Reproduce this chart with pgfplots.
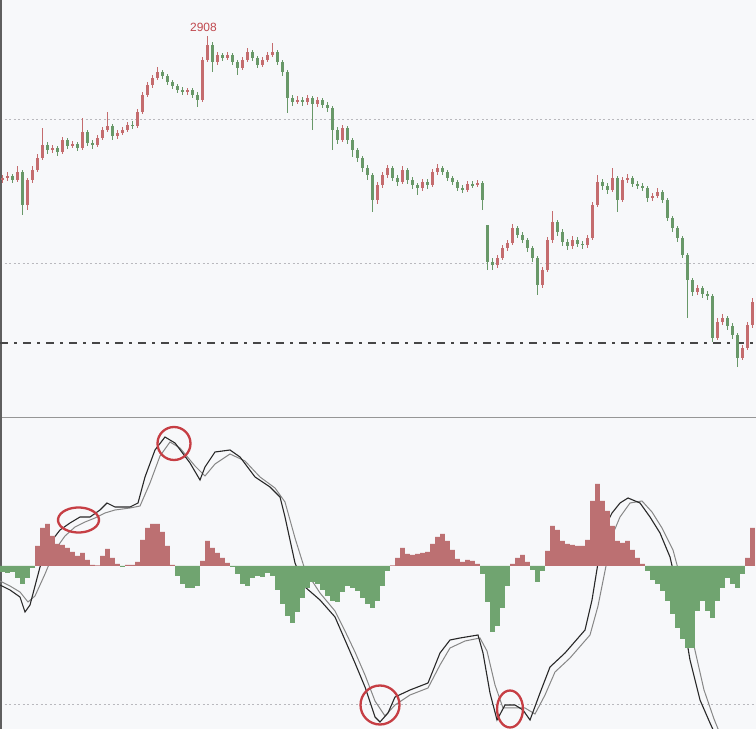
\documentclass[border=0pt]{standalone}
\usepackage{pgfplots}
\usepackage{pgfplotstable}
\usepackage{fontspec}
\setmainfont{Liberation Sans}
\pgfplotsset{compat=1.18}

\definecolor{bg}{RGB}{247,248,250}
\definecolor{upcol}{RGB}{196,108,110}
\definecolor{dncol}{RGB}{104,152,104}
\definecolor{histup}{RGB}{188,112,114}
\definecolor{histdn}{RGB}{112,164,112}
\definecolor{difcol}{RGB}{40,40,40}
\definecolor{deacol}{RGB}{135,135,135}
\definecolor{circcol}{RGB}{198,62,68}
\definecolor{gridcol}{RGB}{185,185,190}
\definecolor{framecol}{RGB}{95,95,95}
\definecolor{sepcol}{RGB}{150,150,150}
\definecolor{labelcol}{RGB}{192,72,78}
\definecolor{supportcol}{RGB}{70,70,70}

% price bars: x o h l c
\pgfplotstableread{
x o h l c
2.5 2764 2769 2761 2766
7.5 2766 2772 2763 2768
12.5 2768 2770 2761 2764
17.5 2764 2778 2762 2772
22.5 2772 2774 2729 2739
27.5 2739 2766 2734 2764
32.5 2764 2778 2761 2774
37.5 2774 2790 2772 2786
42.5 2786 2816 2784 2799
47.5 2799 2802 2790 2794
52.5 2794 2799 2791 2796
57.5 2796 2798 2788 2792
62.5 2792 2807 2790 2804
67.5 2804 2806 2795 2798
72.5 2798 2803 2796 2800
77.5 2800 2802 2793 2796
82.5 2796 2826 2794 2812
87.5 2812 2814 2798 2801
92.5 2801 2804 2795 2799
97.5 2799 2809 2797 2806
102.5 2806 2817 2804 2814
107.5 2814 2832 2812 2818
112.5 2818 2820 2804 2808
117.5 2808 2814 2805 2811
122.5 2811 2817 2809 2814
127.5 2814 2822 2812 2819
132.5 2819 2823 2815 2818
137.5 2818 2835 2816 2832
142.5 2832 2852 2830 2849
147.5 2849 2862 2847 2859
152.5 2859 2869 2856 2866
157.5 2866 2877 2864 2872
162.5 2872 2874 2865 2868
167.5 2868 2870 2859 2862
172.5 2862 2864 2855 2858
177.5 2858 2860 2851 2854
182.5 2854 2857 2849 2852
187.5 2852 2856 2849 2854
192.5 2854 2856 2846 2849
197.5 2849 2852 2837 2844
202.5 2844 2887 2842 2884
207.5 2884 2908 2882 2899
212.5 2899 2902 2872 2882
217.5 2882 2892 2879 2889
222.5 2889 2891 2883 2886
227.5 2886 2892 2884 2889
232.5 2889 2891 2879 2882
237.5 2882 2884 2869 2876
242.5 2876 2887 2874 2884
247.5 2884 2896 2882 2892
252.5 2892 2894 2883 2886
257.5 2886 2888 2876 2879
262.5 2879 2887 2877 2884
267.5 2884 2892 2882 2889
272.5 2889 2901 2887 2892
277.5 2892 2894 2879 2882
282.5 2882 2884 2868 2872
287.5 2872 2874 2831 2846
292.5 2846 2849 2838 2842
297.5 2842 2848 2840 2844
302.5 2844 2847 2838 2842
307.5 2842 2849 2839 2846
312.5 2846 2848 2814 2840
317.5 2840 2847 2837 2844
322.5 2844 2846 2836 2839
327.5 2839 2842 2832 2836
332.5 2836 2838 2794 2814
337.5 2814 2817 2800 2804
342.5 2804 2819 2802 2816
347.5 2816 2818 2800 2804
352.5 2804 2806 2787 2794
357.5 2794 2796 2782 2786
362.5 2786 2788 2772 2776
367.5 2776 2779 2764 2769
372.5 2769 2771 2732 2744
377.5 2744 2762 2740 2759
382.5 2759 2772 2756 2769
387.5 2769 2779 2766 2776
392.5 2776 2778 2763 2766
397.5 2766 2769 2758 2762
402.5 2762 2778 2760 2774
407.5 2774 2776 2760 2764
412.5 2764 2767 2755 2759
417.5 2759 2761 2749 2756
422.5 2756 2765 2753 2762
427.5 2762 2765 2755 2759
432.5 2759 2775 2757 2772
437.5 2772 2780 2769 2776
442.5 2776 2778 2769 2772
447.5 2772 2774 2763 2766
452.5 2766 2768 2759 2762
457.5 2762 2764 2753 2756
462.5 2756 2759 2751 2754
467.5 2754 2763 2752 2760
472.5 2760 2763 2756 2759
477.5 2759 2764 2757 2761
482.5 2761 2763 2734 2744
487.5 2719 2719 2674 2682
492.5 2682 2686 2674 2679
497.5 2679 2689 2676 2686
502.5 2686 2699 2684 2696
507.5 2696 2704 2693 2701
512.5 2701 2720 2699 2716
517.5 2716 2718 2706 2709
522.5 2709 2712 2701 2704
527.5 2704 2706 2692 2696
532.5 2696 2698 2682 2686
537.5 2686 2688 2649 2659
542.5 2659 2677 2656 2674
547.5 2674 2707 2672 2704
552.5 2704 2733 2701 2722
557.5 2722 2724 2708 2712
562.5 2712 2715 2698 2702
567.5 2702 2705 2694 2698
572.5 2698 2708 2695 2704
577.5 2704 2707 2697 2700
582.5 2700 2703 2695 2699
587.5 2699 2709 2696 2706
592.5 2706 2742 2704 2739
597.5 2739 2769 2737 2762
602.5 2762 2765 2754 2758
607.5 2758 2761 2750 2754
612.5 2754 2776 2752 2766
617.5 2766 2768 2732 2744
622.5 2744 2767 2742 2764
627.5 2764 2770 2761 2766
632.5 2766 2768 2757 2760
637.5 2760 2763 2755 2758
642.5 2758 2761 2753 2756
647.5 2756 2758 2742 2746
652.5 2746 2751 2743 2748
657.5 2748 2756 2746 2752
662.5 2752 2754 2741 2744
667.5 2744 2746 2723 2726
672.5 2726 2728 2712 2716
677.5 2716 2718 2702 2706
682.5 2706 2708 2686 2689
687.5 2689 2691 2626 2664
692.5 2664 2666 2648 2652
697.5 2652 2659 2649 2656
702.5 2656 2658 2646 2650
707.5 2650 2653 2644 2648
712.5 2648 2650 2602 2606
717.5 2606 2626 2604 2622
722.5 2622 2630 2619 2626
727.5 2626 2628 2614 2618
732.5 2618 2621 2605 2609
737.5 2609 2611 2577 2586
742.5 2586 2599 2584 2596
747.5 2596 2622 2594 2619
752.5 2619 2646 2616 2642
}\candles

% MACD histogram
\pgfplotstableread{
x v
2.5 -0.6
7.5 -0.7
12.5 -0.6
17.5 -1.2
22.5 -1.8
27.5 -1.2
32.5 -0.2
37.5 2.0
42.5 3.8
47.5 4.2
52.5 3.0
57.5 2.2
62.5 2.1
67.5 1.8
72.5 1.4
77.5 1.0
82.5 1.3
87.5 0.6
92.5 0.1
97.5 0.05
102.5 1.0
107.5 1.7
112.5 0.8
117.5 0.2
122.5 -0.1
127.5 0.1
132.5 0.1
137.5 0.4
142.5 2.6
147.5 3.8
152.5 4.2
157.5 4.2
162.5 3.4
167.5 2.0
172.5 0.1
177.5 -1.0
182.5 -1.8
187.5 -2.2
192.5 -2.2
197.5 -2.0
202.5 0.5
207.5 2.5
212.5 1.8
217.5 1.3
222.5 0.8
227.5 0.3
232.5 -0.1
237.5 -0.8
242.5 -1.8
247.5 -2.0
252.5 -1.2
257.5 -1.0
262.5 -1.1
267.5 -0.7
272.5 -1.0
277.5 -2.4
282.5 -3.8
287.5 -5.0
292.5 -5.7
297.5 -4.6
302.5 -3.2
307.5 -2.2
312.5 -1.6
317.5 -1.8
322.5 -2.4
327.5 -3.0
332.5 -3.5
337.5 -3.6
342.5 -2.6
347.5 -2.0
352.5 -2.2
357.5 -2.5
362.5 -3.2
367.5 -3.8
372.5 -4.2
377.5 -3.5
382.5 -2.0
387.5 -0.5
392.5 0.05
397.5 0.8
402.5 1.8
407.5 1.2
412.5 1.1
417.5 1.2
422.5 1.3
427.5 1.4
432.5 2.2
437.5 2.9
442.5 3.2
447.5 2.5
452.5 1.6
457.5 0.7
462.5 0.4
467.5 0.6
472.5 0.5
477.5 0.2
482.5 -0.8
487.5 -3.6
492.5 -6.6
497.5 -6.0
502.5 -4.2
507.5 -2.0
512.5 0.2
517.5 0.8
522.5 1.1
527.5 0.4
532.5 -0.4
537.5 -1.6
542.5 -0.5
547.5 1.5
552.5 4.0
557.5 3.6
562.5 2.5
567.5 2.2
572.5 2.1
577.5 2.0
582.5 2.0
587.5 2.6
592.5 6.5
597.5 8.2
602.5 6.5
607.5 5.5
612.5 4.0
617.5 2.5
622.5 2.3
627.5 2.5
632.5 1.6
637.5 0.8
642.5 0.2
647.5 -0.5
652.5 -1.4
657.5 -1.8
662.5 -2.5
667.5 -3.5
672.5 -4.8
677.5 -6.2
682.5 -7.3
687.5 -8.2
692.5 -8.2
697.5 -4.5
702.5 -3.5
707.5 -4.5
712.5 -5.2
717.5 -3.5
722.5 -2.2
727.5 -1.2
732.5 -1.8
737.5 -2.2
742.5 -0.8
747.5 0.8
752.5 3.8
}\hist

% DIF line
\pgfplotstableread{
x v
0 -1.9
10 -2.4
20 -3.1
25 -4.6
30 -3.9
40 -0.1
50 2.3
60 3.6
70 4.3
80 4.9
90 4.9
100 5.6
107 6.3
115 5.9
130 5.9
138 6.3
145 8.9
155 11.6
165 12.9
175 12.3
190 10.3
200 8.6
205 9.9
215 11.4
230 11.6
240 10.9
255 8.9
270 7.9
280 6.9
285 4.9
295 0.3
305 -2.1
320 -3.4
335 -5.1
345 -7.4
355 -9.7
365 -12.1
375 -15.1
380 -15.6
388 -14.7
395 -13.1
410 -12.4
428 -11.7
440 -8.7
450 -7.4
460 -7.2
478 -6.9
483 -8.7
490 -12.7
497 -15.4
505 -13.9
515 -13.9
523 -14.4
530 -15.4
540 -12.7
550 -10.1
565 -8.7
585 -6.4
592 -3.4
598 0.3
605 3.9
612 5.3
620 6.3
628 6.8
640 6.3
650 4.9
660 3.3
670 0.9
680 -3.4
690 -9.4
700 -13.4
710 -15.7
720 -17.9
}\dif

% DEA line
\pgfplotstableread{
x v
0 -1.5
10 -2.0
20 -2.6
28 -3.6
35 -3.0
45 -0.8
55 1.6
65 3.0
75 3.9
85 4.4
95 4.8
105 5.3
115 5.6
130 5.8
140 6.0
150 8.3
160 11.0
170 12.4
180 11.8
195 10.0
205 9.0
215 10.2
230 11.2
245 10.5
260 8.9
275 7.8
285 6.4
295 2.8
305 -0.4
320 -2.7
335 -4.5
345 -6.5
355 -8.6
365 -10.9
375 -13.5
385 -15.0
395 -13.9
410 -12.9
428 -12.2
440 -9.9
450 -8.2
465 -7.5
480 -7.2
487 -8.5
495 -11.9
503 -14.2
512 -14.2
525 -14.2
535 -14.8
545 -12.9
555 -10.6
570 -9.2
590 -6.9
598 -4.0
605 -0.5
612 3.0
620 4.9
630 6.3
642 6.5
652 5.4
662 3.8
673 1.6
684 -2.5
694 -8.0
704 -12.4
714 -15.3
725 -18.0
}\dea

\pgfplotsset{
  candle/.style={draw=none, mark=none, forget plot,
    error bars/y dir=both, error bars/y explicit, error bars/error mark=none},
}

\begin{document}
\begin{tikzpicture}
% price panel
\begin{axis}[
  at={(0,311bp)}, anchor=south west,
  scale only axis, width=756bp, height=418bp,
  xmin=0, xmax=756, ymin=2526, ymax=2944,
  axis x line*=bottom, axis y line*=left,
  x axis line style={draw=sepcol, line width=1.2bp, -},
  y axis line style={draw=framecol, line width=3.6bp, -},
  xtick=\empty, ytick={2681,2825}, yticklabels={},
  major tick length=0pt,
  ymajorgrids,
  major grid style={gridcol, line width=0.8bp, dash pattern=on 2bp off 2.5bp},
  extra y ticks={2601}, extra y tick labels={},
  extra y tick style={major grid style={supportcol, line width=1.6bp,
    dash pattern=on 8bp off 6bp on 2.5bp off 6.5bp}},
  axis background/.style={fill=bg},
]
% wicks
\addplot[candle, restrict expr to domain={\thisrow{c}-\thisrow{o}}{0:1000},
  error bars/error bar style={draw=upcol, line width=0.9bp}]
  table[x=x, y expr={(\thisrow{h}+\thisrow{l})/2},
        y error expr={(\thisrow{h}-\thisrow{l})/2}] {\candles};
\addplot[candle, restrict expr to domain={\thisrow{c}-\thisrow{o}}{-1000:-0.5},
  error bars/error bar style={draw=dncol, line width=0.9bp}]
  table[x=x, y expr={(\thisrow{h}+\thisrow{l})/2},
        y error expr={(\thisrow{h}-\thisrow{l})/2}] {\candles};
% bodies
\addplot[candle, restrict expr to domain={\thisrow{c}-\thisrow{o}}{0:1000},
  error bars/error bar style={draw=upcol, line width=2.8bp}]
  table[x=x, y expr={(\thisrow{o}+\thisrow{c})/2},
        y error expr={max(abs(\thisrow{c}-\thisrow{o})/2,0.6)}] {\candles};
\addplot[candle, restrict expr to domain={\thisrow{c}-\thisrow{o}}{-1000:-0.5},
  error bars/error bar style={draw=dncol, line width=2.8bp}]
  table[x=x, y expr={(\thisrow{o}+\thisrow{c})/2},
        y error expr={max(abs(\thisrow{c}-\thisrow{o})/2,0.6)}] {\candles};
\node[labelcol, font=\fontsize{12}{12}\selectfont, inner sep=0pt, anchor=base]
  at (axis cs:203.5,2912) {2908};
\end{axis}

% MACD panel
\begin{axis}[
  at={(0,0)}, anchor=south west,
  scale only axis, width=756bp, height=311bp,
  xmin=0, xmax=756, ymin=-16.3, ymax=14.8,
  axis x line=none, axis y line*=left,
  y axis line style={draw=framecol, line width=3.6bp, -},
  xtick=\empty, ytick={-13.8}, yticklabels={},
  major tick length=0pt,
  ymajorgrids,
  major grid style={gridcol, line width=0.8bp, dash pattern=on 2bp off 2.5bp},
  axis background/.style={fill=bg},
]
\addplot[deacol, line width=1bp] table[x=x, y=v] {\dea};
\addplot[difcol, line width=1.1bp] table[x=x, y=v] {\dif};
\addplot[ybar, bar width=4.7, bar shift=0pt, draw=none, fill=histup,
  restrict y to domain=0:100] table[x=x, y=v] {\hist};
\addplot[ybar, bar width=4.7, bar shift=0pt, draw=none, fill=histdn,
  restrict y to domain=-100:0] table[x=x, y=v] {\hist};
% highlighted crossings
\addplot[only marks, mark=o, mark size=12.5bp,
  mark options={draw=circcol, line width=2.3bp, xscale=1.64, rotate=-6}]
  coordinates {(78.5,4.6)};
\addplot[only marks, mark=o, mark size=16.5bp,
  mark options={draw=circcol, line width=2.3bp}]
  coordinates {(174,12.25)};
\addplot[only marks, mark=o, mark size=19.5bp,
  mark options={draw=circcol, line width=2.3bp}]
  coordinates {(380,-13.9)};
\addplot[only marks, mark=o, mark size=18.5bp,
  mark options={draw=circcol, line width=2.3bp, xscale=0.7}]
  coordinates {(510,-14.3)};
\end{axis}
\pgfresetboundingbox
\path[use as bounding box] (0,0) rectangle (756bp,729bp);
\end{tikzpicture}
\end{document}
